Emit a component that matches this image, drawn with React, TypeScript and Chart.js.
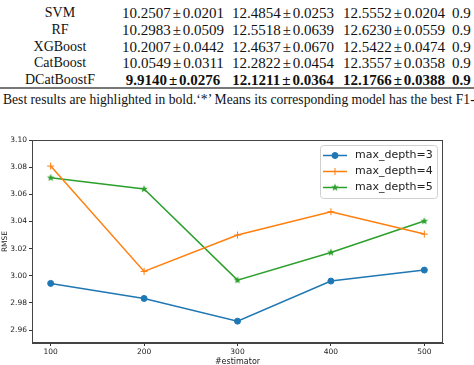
import React, { useEffect, useRef } from "react";
import { Chart, registerables } from "chart.js";
import { drawPoint } from "chart.js/helpers";

Chart.register(...registerables);

// ---- table data ----
const models = ["SVM", "RF", "XGBoost", "CatBoost", "DCatBoostF"];
const col1 = ["10.2507±0.0201", "10.2983±0.0509", "10.2007±0.0442", "10.0549±0.0311", "9.9140±0.0276"];
const col2 = ["12.4854±0.0253", "12.5518±0.0639", "12.4637±0.0670", "12.2822±0.0454", "12.1211±0.0364"];
const col3 = ["12.5552±0.0204", "12.6230±0.0559", "12.5422±0.0474", "12.3557±0.0358", "12.1766±0.0388"];
const col4 = ["0.9", "0.9", "0.9", "0.9", "0.9"];
const caption = "Best results are highlighted in bold.‘*’ Means its corresponding model has the best F1-score";

// ---- chart data ----
const estimators = [100, 200, 300, 400, 500];
const depth3 = [2.9944, 2.9833, 2.9666, 2.9961, 3.0042];
const depth4 = [3.0808, 3.0032, 3.0300, 3.0472, 3.0307];
const depth5 = [3.0722, 3.0639, 2.9968, 3.0172, 3.0403];
const seriesLabels = ["max_depth=3", "max_depth=4", "max_depth=5"];
const yTicks = [2.96, 2.98, 3.0, 3.02, 3.04, 3.06, 3.08, 3.1];
const xTicks = [100, 200, 300, 400, 500];

const BLUE = "#1f77b4";
const ORANGE = "#ff7f0e";
const GREEN = "#2ca02c";

function makeStar(color: string, r: number) {
  const c = document.createElement("canvas");
  const s = Math.ceil(r * 2 + 2);
  c.width = s;
  c.height = s;
  const ctx = c.getContext("2d")!;
  ctx.fillStyle = color;
  ctx.beginPath();
  for (let i = 0; i < 10; i++) {
    const rad = i % 2 === 0 ? r : r * 0.42;
    const a = -Math.PI / 2 + (i * Math.PI) / 5;
    const x = s / 2 + rad * Math.cos(a);
    const y = s / 2 + rad * Math.sin(a);
    if (i === 0) ctx.moveTo(x, y);
    else ctx.lineTo(x, y);
  }
  ctx.closePath();
  ctx.fill();
  return c;
}

function numCell(text: string) {
  const [a, b] = text.split("±");
  return (
    <span>
      {a}
      <span style={{ margin: "0 2px" }}>±</span>
      {b}
    </span>
  );
}

function ChartView() {
  const ref = useRef<HTMLCanvasElement | null>(null);
  useEffect(() => {
    if (!ref.current) return;
    const star = makeStar(GREEN, 4);
    const styles: any[] = ["circle", "cross", star];
    const colors = [BLUE, ORANGE, GREEN];
    const radii = [3, 3.5, 4];
    const series = [depth3, depth4, depth5];

    const framePlugin = {
      id: "frame",
      afterDatasetsDraw(chart: any) {
        const { ctx, chartArea: a } = chart;
        ctx.save();
        ctx.strokeStyle = "#444";
        ctx.lineWidth = 1;
        ctx.strokeRect(a.left + 0.5, a.top + 0.5, a.right - a.left - 1, a.bottom - a.top - 1);
        ctx.restore();
      },
      afterDraw(chart: any) {
        const { ctx, chartArea: a } = chart;
        const w = 117;
        const h = 53;
        const left = a.right - 6 - w;
        const top = a.top + 5;
        ctx.save();
        ctx.fillStyle = "rgba(255,255,255,0.9)";
        ctx.strokeStyle = "#d0d0d0";
        ctx.lineWidth = 1;
        ctx.beginPath();
        (ctx as any).roundRect(left + 0.5, top + 0.5, w, h, 3);
        ctx.fill();
        ctx.stroke();
        chart.data.datasets.forEach((ds: any, i: number) => {
          const y = top + 10.5 + i * 16;
          ctx.strokeStyle = ds.borderColor;
          ctx.lineWidth = 1.5;
          ctx.beginPath();
          ctx.moveTo(left + 3, y);
          ctx.lineTo(left + 27, y);
          ctx.stroke();
          ctx.fillStyle = ds.borderColor;
          ctx.strokeStyle = ds.borderColor;
          ctx.lineWidth = 1;
          drawPoint(ctx, { pointStyle: ds.pointStyle, radius: ds.pointRadius, rotation: 0, borderWidth: 1 } as any, left + 15, y);
          ctx.fillStyle = "#222";
          ctx.font = "11px 'DejaVu Sans'";
          ctx.textBaseline = "middle";
          ctx.textAlign = "left";
          ctx.fillText(ds.label, left + 35, y);
        });
        ctx.restore();
      },
    };

    const chart = new Chart(ref.current, {
      type: "line",
      data: {
        datasets: series.map((vals, i) => ({
          label: seriesLabels[i],
          data: estimators.map((x, j) => ({ x, y: vals[j] })),
          borderColor: colors[i],
          backgroundColor: colors[i],
          borderWidth: 1.5,
          pointStyle: styles[i],
          pointRadius: radii[i],
          pointBorderWidth: 1,
          pointBorderColor: colors[i],
          pointBackgroundColor: colors[i],
          tension: 0,
          fill: false,
        })),
      },
      options: {
        animation: false,
        responsive: false,
        maintainAspectRatio: false,
        layout: { padding: { top: 10, right: 31, left: 0, bottom: 0 } },
        plugins: { legend: { display: false }, tooltip: { enabled: false } },
        scales: {
          x: {
            type: "linear",
            min: 80,
            max: 520,
            afterBuildTicks: (s: any) => {
              s.ticks = xTicks.map((v) => ({ value: v }));
            },
            afterFit: (s: any) => {
              s.height = 27;
            },
            ticks: {
              font: { family: "'DejaVu Sans'", size: 7.5 },
              color: "#222",
              padding: 2,
              maxRotation: 0,
              callback: (v: any) => String(v),
            },
            grid: { display: true, drawOnChartArea: false, drawTicks: true, tickLength: 3, tickColor: "#333" },
            border: { display: true, color: "#444", width: 1 },
            title: {
              display: true,
              text: "#estimator",
              font: { family: "'DejaVu Sans'", size: 8 },
              color: "#222",
              padding: { top: 0, bottom: 3 },
            },
          },
          y: {
            min: 2.9505,
            max: 3.1,
            afterBuildTicks: (s: any) => {
              s.ticks = yTicks.map((v) => ({ value: v }));
            },
            afterFit: (s: any) => {
              s.width = 32;
            },
            ticks: {
              font: { family: "'DejaVu Sans'", size: 7.5 },
              color: "#222",
              padding: 2,
              callback: (v: any) => Number(v).toFixed(2),
            },
            grid: { display: true, drawOnChartArea: false, drawTicks: true, tickLength: 3, tickColor: "#333" },
            border: { display: true, color: "#444", width: 1 },
            title: {
              display: true,
              text: "RMSE",
              font: { family: "'DejaVu Sans'", size: 7.5 },
              color: "#222",
              padding: { top: 1, bottom: 0 },
            },
          },
        },
      },
      plugins: [framePlugin],
    } as any);
    return () => chart.destroy();
  }, []);
  return (
    <canvas
      ref={ref}
      width={474}
      height={240}
      style={{ position: "absolute", left: 0, top: 130, width: 474, height: 240 }}
    />
  );
}

export default function App() {
  const rowY = [13, 30, 46.7, 63.3, 80];
  const serif = "'Liberation Serif', 'Times New Roman', serif";
  const cell = (content: any, center: number, y: number, bold: boolean, key: string, size = 15) => (
    <div
      key={key}
      style={{
        position: "absolute",
        left: center - 100,
        width: 200,
        top: y - 10,
        height: 20,
        lineHeight: "20px",
        textAlign: "center",
        fontFamily: serif,
        fontSize: size,
        fontWeight: bold ? "bold" : "normal",
        color: "#111",
        whiteSpace: "nowrap",
      }}
    >
      {content}
    </div>
  );
  return (
    <div
      style={{
        position: "fixed",
        left: 0,
        top: 0,
        width: 474,
        height: 365,
        overflow: "hidden",
        background: "#fff",
      }}
    >
      {models.map((m, i) => {
        const bold = i === models.length - 1;
        return (
          <React.Fragment key={m}>
            {cell(m, 60, rowY[i], false, m + "a", 14)}
            {cell(numCell(col1[i]), 173, rowY[i], bold, m + "b")}
            {cell(numCell(col2[i]), 283, rowY[i], bold, m + "c")}
            {cell(numCell(col3[i]), 394, rowY[i], bold, m + "d")}
            <div
              style={{
                position: "absolute",
                left: 452,
                top: rowY[i] - 10,
                height: 20,
                lineHeight: "20px",
                fontFamily: serif,
                fontSize: 15,
                fontWeight: bold ? "bold" : "normal",
                color: "#111",
                whiteSpace: "nowrap",
              }}
            >
              {col4[i]}
            </div>
          </React.Fragment>
        );
      })}
      <div style={{ position: "absolute", left: 0, top: 87, width: 474, height: 2, background: "#777" }} />
      <div
        style={{
          position: "absolute",
          left: 3,
          top: 90,
          height: 20,
          lineHeight: "20px",
          fontFamily: serif,
          fontSize: 13.6,
          color: "#111",
          whiteSpace: "nowrap",
        }}
      >
        {caption}
      </div>
      <ChartView />
    </div>
  );
}
